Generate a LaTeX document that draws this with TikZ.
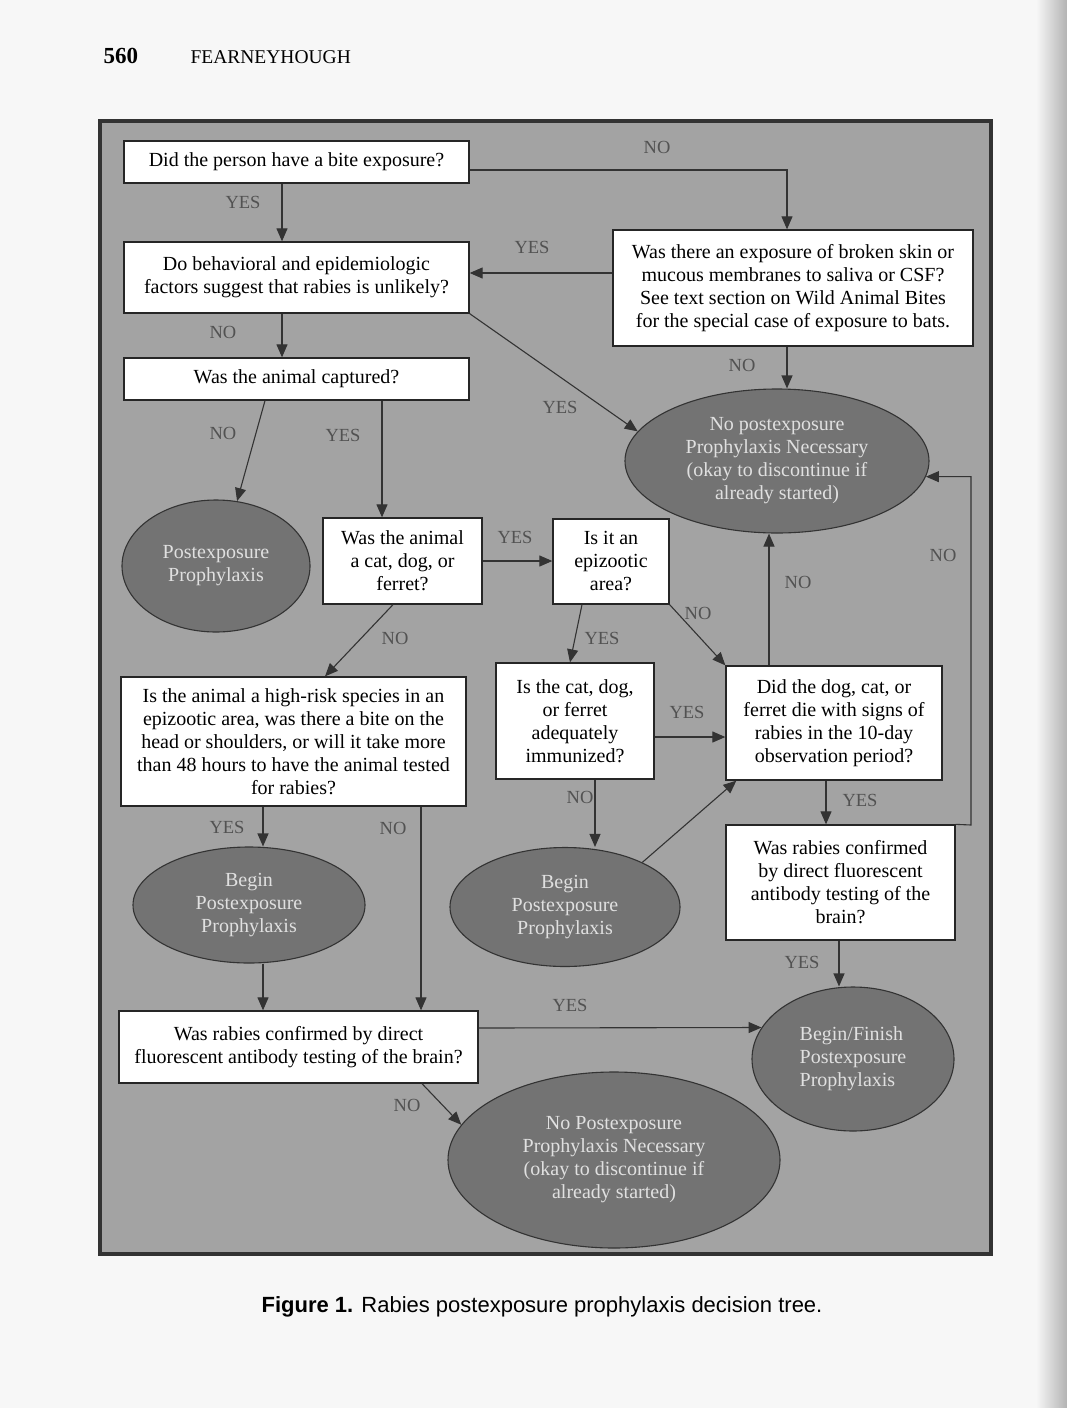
\documentclass[tikz,border=0pt]{standalone}
\usepackage{fontspec}
\setmainfont{Liberation Serif}
\newfontfamily\capfont{Liberation Sans}
\usetikzlibrary{shapes,arrows.meta,positioning,calc}
\newcommand{\qfont}{\fontsize{20}{23}\selectfont}
\newcommand{\lfont}{\fontsize{18.5}{20}\selectfont}

\begin{document}
\begin{tikzpicture}[x=1pt,y=-1pt,
    qbox/.style={draw=black!85, fill=white, line width=1.3pt, align=center, inner sep=2pt, font=\qfont},
    pepnode/.style={ellipse, draw=black!80, fill=black!55, line width=1.1pt, align=center, inner sep=0pt, text=black!12, font=\qfont},
    lbl/.style={text=black!68, font=\lfont},
    arr/.style={-{Triangle[length=13pt,width=11pt]}, draw=black!80, line width=1.1pt}]
    \useasboundingbox (0,0) rectangle (1067,1408);
    % Page
    \fill[black!3] (0,0) rectangle (1067,1408);
    \shade[left color=black!3, right color=black!30] (1036,0) rectangle (1067,1408);
    \node[anchor=base west, font=\fontsize{23}{26}\selectfont\bfseries] (pgno) at (100,63) {560};
    \node[anchor=base west, font=\fontsize{19.5}{22}\selectfont] (author) at (187,63) {FEARNEYHOUGH};

    % Panel
    \draw[line width=3.5pt, draw=black!80, fill=black!36] (100,121) rectangle (991,1254);

    % Questions
    \node[qbox, minimum width=345pt, minimum height=42pt] (bite) at (296.5,162) {Did the person have a bite exposure?};
    \node[qbox, minimum width=345pt, minimum height=71pt] (factors) at (296.5,277.5) {Do behavioral and epidemiologic\\factors suggest that rabies is unlikely?};
    \node[qbox, minimum width=360pt, minimum height=116pt] (broken) at (793,288) {Was there an exposure of broken skin or\\mucous membranes to saliva or CSF?\\See text section on Wild Animal Bites\\for the special case of exposure to bats.};
    \node[qbox, minimum width=345pt, minimum height=42pt] (captured) at (296.5,379) {Was the animal captured?};
    \node[qbox, minimum width=159pt, minimum height=86pt] (catdog) at (402.5,561) {Was the animal\\a cat, dog, or\\ferret?};
    \node[qbox, minimum width=116pt, minimum height=85pt] (epizootic) at (611,561.5) {Is it an\\epizootic\\area?};
    \node[qbox, minimum width=345pt, minimum height=129pt] (highrisk) at (293.5,741.5) {Is the animal a high-risk species in an\\epizootic area, was there a bite on the\\head or shoulders, or will it take more\\than 48 hours to have the animal tested\\for rabies?};
    \node[qbox, minimum width=158pt, minimum height=116pt] (immunized) at (575,721) {Is the cat, dog,\\or ferret\\adequately\\immunized?};
    \node[qbox, minimum width=216pt, minimum height=114pt] (died) at (834,723) {Did the dog, cat, or\\ferret die with signs of\\rabies in the 10-day\\observation period?};
    \node[qbox, minimum width=229pt, minimum height=115pt] (conf1) at (840.5,882.5) {Was rabies confirmed\\by direct fluorescent\\antibody testing of the\\brain?};
    \node[qbox, minimum width=359pt, minimum height=72pt] (conf2) at (298.5,1047) {Was rabies confirmed by direct\\fluorescent antibody testing of the brain?};

    % Outcomes
    \node[pepnode, minimum width=304pt, minimum height=144pt] (nopep1) at (777,461) {No postexposure\\Prophylaxis Necessary\\(okay to discontinue if\\already started)};
    \node[pepnode, minimum width=188pt, minimum height=132pt] (pep1) at (216,566) {Postexposure\\Prophylaxis};
    \node[pepnode, minimum width=232pt, minimum height=116pt] (pep2) at (249,905) {Begin\\Postexposure\\Prophylaxis};
    \node[pepnode, minimum width=230pt, minimum height=119pt] (pep3) at (565,907) {Begin\\Postexposure\\Prophylaxis};
    \node[pepnode, minimum width=332pt, minimum height=176pt] (nopep2) at (614,1160) {No Postexposure\\Prophylaxis Necessary\\(okay to discontinue if\\already started)};
    \node[pepnode, minimum width=202pt, minimum height=144pt, align=left] (bf) at (853,1059) {Begin/Finish\\Postexposure\\Prophylaxis};

    % Connectors
    \coordinate (loop) at (971,825);
    \draw[arr] ([xshift=-14.5pt]bite.south) -- ([xshift=-14.5pt]factors.north);
    \draw[arr] ([yshift=-8pt]bite.east) -| ([xshift=-6pt]broken.north);
    \draw[arr] ([yshift=15pt]broken.west) -- ([yshift=15pt]broken.west -| factors.east);
    \draw[arr] ([xshift=-14.5pt]factors.south) -- ([xshift=-14.5pt]captured.north);
    \draw[arr] (factors.south east) -- (nopep1.168);
    \draw[arr] ([xshift=-6pt]broken.south) -- ([xshift=-6pt]broken.south |- nopep1.north);
    \draw[arr] ([xshift=-31.5pt]captured.south) -- (pep1.72);
    \draw[arr] ([xshift=-20.5pt]catdog.north |- captured.south) -- ([xshift=-20.5pt]catdog.north);
    \draw[arr] (catdog.east) -- (catdog.east -| epizootic.west);
    \draw[arr] ([xshift=-9.5pt]catdog.south) -- ([xshift=31.5pt]highrisk.north);
    \draw[arr] ([xshift=-29pt]epizootic.south) -- ([xshift=-5pt]immunized.north);
    \draw[arr] (epizootic.south east) -- (died.north west);
    \draw[arr] ([yshift=-16pt]immunized.east) -- ([yshift=-16pt]immunized.east -| died.west);
    \draw[arr] ([xshift=20pt]immunized.south) -- ([xshift=20pt]immunized.south |- pep3.north);
    \draw[arr] (pep3.30) -- ([xshift=11pt]died.south west);
    \draw[arr] ([xshift=-65pt]died.north) -- ([xshift=-65pt]died.north |- nopep1.south);
    \draw[arr] ([xshift=-8pt]died.south) -- ([xshift=-8pt]died.south |- conf1.north);
    \draw[arr] (conf1.north east) -- (loop) |- (nopep1.-6);
    \draw[arr] ([xshift=-1.5pt]conf1.south) -- ([xshift=-1.5pt]conf1.south |- bf.north);
    \draw[arr] ([xshift=-30.5pt]highrisk.south) -- ([xshift=-30.5pt]highrisk.south |- pep2.north);
    \draw[arr] ([xshift=127.5pt]highrisk.south) -- ([xshift=127.5pt]highrisk.south |- conf2.north);
    \draw[arr] ([xshift=14pt]pep2.south) -- ([xshift=14pt]pep2.south |- conf2.north);
    \draw[arr] ([yshift=19pt]conf2.east) -- (bf.161);
    \draw[arr] ([xshift=123.5pt]conf2.south) -- (nopep2.167);

    % Labels
    \foreach \lx/\ly/\lt [count=\i] in {243/202/YES, 657/147/NO, 532/247/YES, 223/332/NO,
                                        560/407/YES, 742/365/NO, 223/433/NO, 343/435/YES,
                                        515/537/YES, 395/638/NO, 602/638/YES, 698/613/NO,
                                        687/712/YES, 580/797/NO, 798/582/NO, 943/555/NO,
                                        860/800/YES, 802/962/YES, 227/827/YES, 393/828/NO,
                                        570/1005/YES, 407/1105/NO} {
        \node[lbl] (lab\i) at (\lx,\ly) {\lt};
    }

    % Caption
    \node[font=\capfont\fontsize{22}{26}\selectfont] (caption) at (542,1307) {\textbf{Figure 1.} Rabies postexposure prophylaxis decision tree.};
\end{tikzpicture}
\end{document}
